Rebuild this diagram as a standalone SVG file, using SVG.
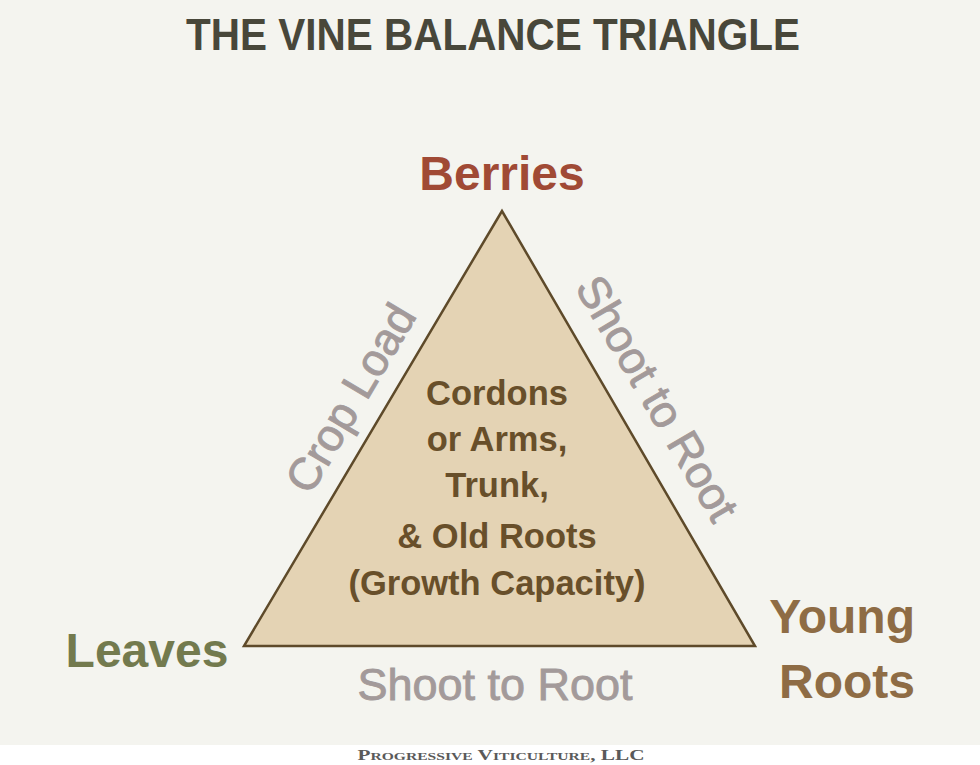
<svg xmlns="http://www.w3.org/2000/svg" width="980" height="765" viewBox="0 0 980 765">
<style>
.sans{font-family:"Liberation Sans",Arial,sans-serif}
.b{font-weight:bold}
.edge{font-size:45px;fill:#a39a9a;stroke:#a39a9a;stroke-width:0.9px;font-family:"Liberation Sans",Arial,sans-serif}
.corner{font-size:48px;font-weight:bold;font-family:"Liberation Sans",Arial,sans-serif}
.core{font-size:34.5px;font-weight:bold;fill:#684f2a;font-family:"Liberation Sans",Arial,sans-serif;text-anchor:middle}
</style>
<rect x="0" y="0" width="980" height="765" fill="#f4f4ef"/>
<rect x="0" y="745" width="980" height="20" fill="#ffffff"/>
<text x="493" y="50" class="sans b" font-size="44" fill="#48473a" text-anchor="middle" textLength="614" lengthAdjust="spacingAndGlyphs">THE VINE BALANCE TRIANGLE</text>
<g id="triangle">
<polygon points="502,211 244,646 755,646" fill="#e4d3b4" stroke="#5e4a2a" stroke-width="2.5" stroke-linejoin="miter"/>
<text class="core" x="497" y="405">Cordons</text>
<text class="core" x="497" y="451">or Arms,</text>
<text class="core" x="497" y="497">Trunk,</text>
<text class="core" x="497" y="548">&amp; Old Roots</text>
<text class="core" x="497" y="595">(Growth Capacity)</text>
</g>
<g id="berries"><text class="corner" x="502" y="190" fill="#a04a35" text-anchor="middle">Berries</text></g>
<g id="leaves"><text class="corner" x="147" y="667" fill="#737a4e" text-anchor="middle">Leaves</text></g>
<g id="young-roots">
<text class="corner" x="915" y="633" fill="#8e6c45" text-anchor="end">Young</text>
<text class="corner" x="915" y="698" fill="#8e6c45" text-anchor="end">Roots</text>
</g>
<g id="connectors">
<text class="edge" text-anchor="middle" transform="translate(364,406) rotate(-59.3)">Crop Load</text>
<text class="edge" text-anchor="middle" transform="translate(644,406) rotate(59.6)">Shoot to Root</text>
<text class="edge" text-anchor="middle" x="495" y="700">Shoot to Root</text>
</g>
<text x="501" y="760" font-family="'Liberation Serif',serif" font-weight="bold" font-size="15" fill="#5a5a5a" text-anchor="middle" style="font-variant:small-caps" textLength="287" lengthAdjust="spacingAndGlyphs">Progressive Viticulture, LLC</text>
</svg>
